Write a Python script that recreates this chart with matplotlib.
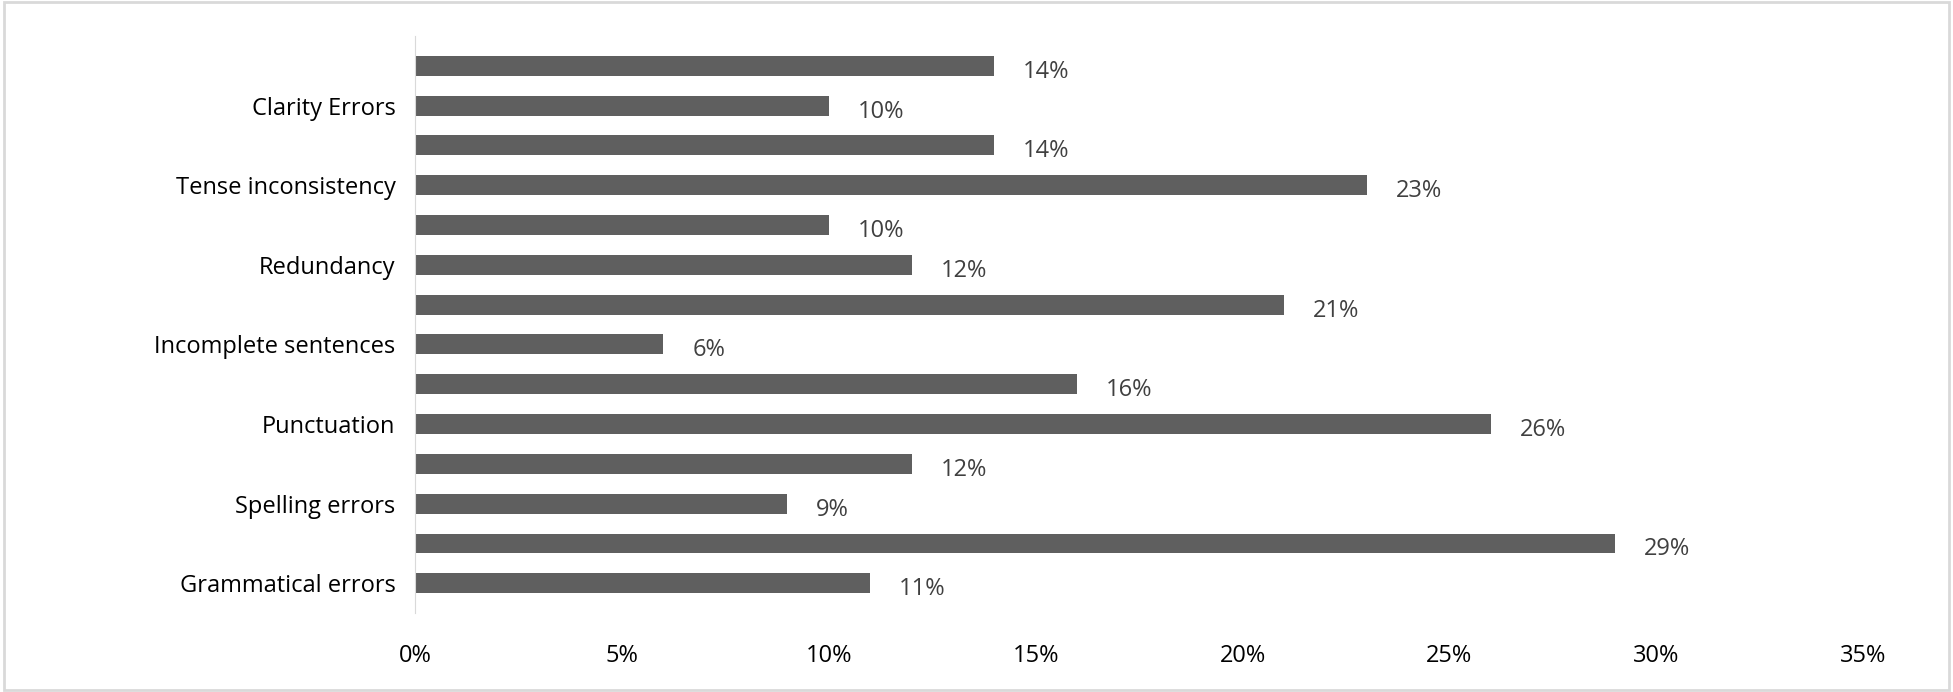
import matplotlib.pyplot as plt
from matplotlib.ticker import FuncFormatter

# bottom to top, two bars per category
categories = ['Grammatical errors', 'Spelling errors', 'Punctuation', 'Incomplete sentences',
              'Redundancy', 'Tense inconsistency', 'Clarity Errors']
values = [11, 29, 9, 12, 26, 16, 6, 21, 12, 10, 23, 14, 10, 14]

plt.rcParams['font.family'] = ['Open Sans', 'DejaVu Sans']

fig = plt.figure(figsize=(19.53, 6.92), dpi=100)
ax = fig.add_axes([0.2125, 0.114, 0.7415, 0.834])

pos = list(range(len(values)))
ax.barh(pos, values, height=0.5, color='#5f5f5f')
for p, v in zip(pos, values):
    ax.text(v + 0.7, p - 0.15, f'{v}%', va='center', ha='left', fontsize=17, color='#404040')

ax.set_xlim(0, 35)
ax.set_ylim(-0.75, len(values) - 0.25)
ax.set_xticks(range(0, 36, 5))
ax.xaxis.set_major_formatter(FuncFormatter(lambda x, _: f'{x:.0f}%'))
ax.set_yticks(pos[::2])
ax.set_yticklabels(categories)
ax.tick_params(length=0, labelsize=17, pad=14)
ax.tick_params(axis='x', pad=22)
for s in ['top', 'right', 'bottom']:
    ax.spines[s].set_visible(False)
ax.spines['left'].set_color('#d9d9d9')

fig.patches.append(plt.Rectangle((0.002, 0.003), 0.996, 0.994, transform=fig.transFigure,
                                 fill=False, edgecolor='#d9d9d9', linewidth=2))
fig.savefig('out.png', dpi=100)
